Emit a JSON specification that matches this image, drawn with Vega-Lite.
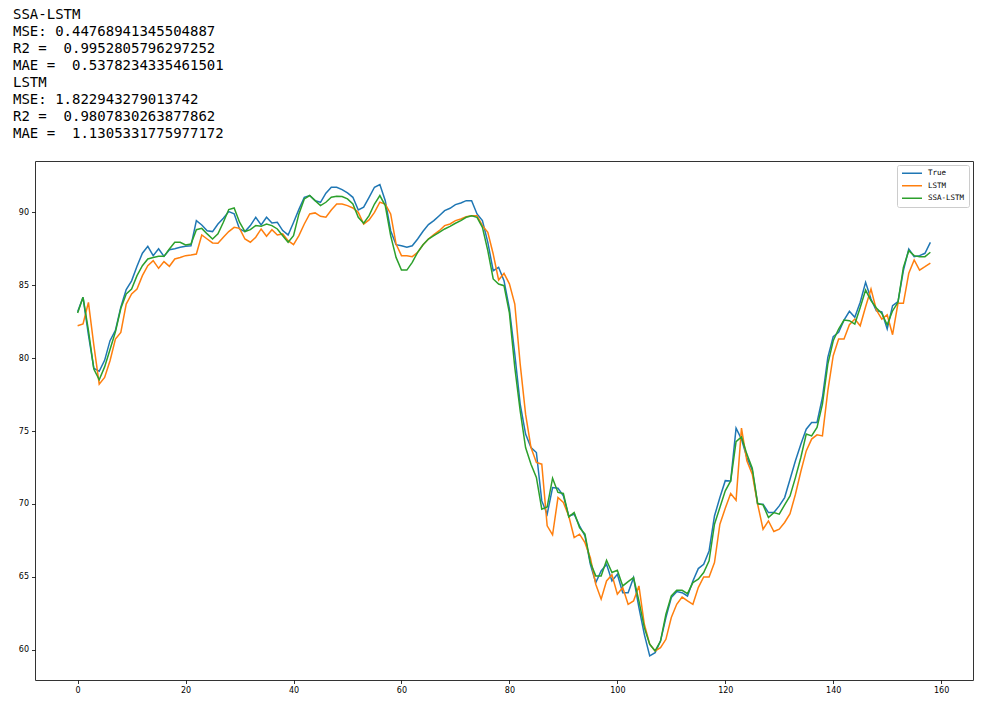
{
"$schema": "https://vega.github.io/schema/vega-lite/v6.json",
"width": 938, "height": 519,
"autosize": {"type": "none"},
"padding": {"left": 35, "top": 161, "right": 10, "bottom": 21},
"background": "white",
"title": {"text": ["SSA-LSTM", "MSE: 0.44768941345504887", "R2 = \u00a00.9952805796297252", "MAE = \u00a00.5378234335461501", "LSTM", "MSE: 1.822943279013742", "R2 = \u00a00.9807830263877862", "MAE = \u00a01.1305331775977172"], "anchor": "start", "frame": "group", "font": "DejaVu Sans Mono", "fontSize": 14, "fontWeight": "normal", "color": "#000", "lineHeight": 17, "offset": 20, "dx": -22},
"data": {"values": [
{"x":0,"True":83.19,"LSTM":82.22,"SSA-LSTM":83.1},
{"x":1,"True":84.17,"LSTM":82.34,"SSA-LSTM":84.17},
{"x":2,"True":81.6,"LSTM":83.83,"SSA-LSTM":81.9},
{"x":3,"True":79.3,"LSTM":80.9,"SSA-LSTM":79.25},
{"x":4,"True":79.1,"LSTM":78.22,"SSA-LSTM":78.52},
{"x":5,"True":79.85,"LSTM":78.68,"SSA-LSTM":79.4},
{"x":6,"True":81.2,"LSTM":79.82,"SSA-LSTM":80.6},
{"x":7,"True":81.9,"LSTM":81.31,"SSA-LSTM":81.8},
{"x":8,"True":83.5,"LSTM":81.77,"SSA-LSTM":83.4},
{"x":9,"True":84.7,"LSTM":83.71,"SSA-LSTM":84.4},
{"x":10,"True":85.3,"LSTM":84.4,"SSA-LSTM":84.74},
{"x":11,"True":86.3,"LSTM":84.74,"SSA-LSTM":85.66},
{"x":12,"True":87.2,"LSTM":85.66,"SSA-LSTM":86.34},
{"x":13,"True":87.67,"LSTM":86.34,"SSA-LSTM":86.8},
{"x":14,"True":87.03,"LSTM":86.69,"SSA-LSTM":86.9},
{"x":15,"True":87.5,"LSTM":86.16,"SSA-LSTM":86.98},
{"x":16,"True":86.98,"LSTM":86.62,"SSA-LSTM":86.98},
{"x":17,"True":87.44,"LSTM":86.3,"SSA-LSTM":87.49},
{"x":18,"True":87.5,"LSTM":86.8,"SSA-LSTM":87.95},
{"x":19,"True":87.6,"LSTM":86.9,"SSA-LSTM":87.95},
{"x":20,"True":87.67,"LSTM":87.03,"SSA-LSTM":87.76},
{"x":21,"True":87.7,"LSTM":87.07,"SSA-LSTM":87.83},
{"x":22,"True":89.43,"LSTM":87.14,"SSA-LSTM":88.81},
{"x":23,"True":89.13,"LSTM":88.45,"SSA-LSTM":88.9},
{"x":24,"True":88.74,"LSTM":88.17,"SSA-LSTM":88.52},
{"x":25,"True":88.68,"LSTM":87.9,"SSA-LSTM":88.17},
{"x":26,"True":89.2,"LSTM":87.88,"SSA-LSTM":88.52},
{"x":27,"True":89.59,"LSTM":88.29,"SSA-LSTM":89.32},
{"x":28,"True":90.05,"LSTM":88.68,"SSA-LSTM":90.19},
{"x":29,"True":89.9,"LSTM":88.97,"SSA-LSTM":90.3},
{"x":30,"True":88.86,"LSTM":88.9,"SSA-LSTM":89.32},
{"x":31,"True":88.68,"LSTM":88.17,"SSA-LSTM":88.68},
{"x":32,"True":89.09,"LSTM":87.95,"SSA-LSTM":88.81},
{"x":33,"True":89.66,"LSTM":88.29,"SSA-LSTM":89.09},
{"x":34,"True":89.13,"LSTM":88.86,"SSA-LSTM":89.04},
{"x":35,"True":89.66,"LSTM":88.36,"SSA-LSTM":89.2},
{"x":36,"True":89.27,"LSTM":88.81,"SSA-LSTM":89.09},
{"x":37,"True":89.32,"LSTM":88.45,"SSA-LSTM":88.86},
{"x":38,"True":88.75,"LSTM":88.52,"SSA-LSTM":88.4},
{"x":39,"True":88.45,"LSTM":88.06,"SSA-LSTM":87.95},
{"x":40,"True":89.3,"LSTM":87.78,"SSA-LSTM":88.4},
{"x":41,"True":90.2,"LSTM":88.4,"SSA-LSTM":89.89},
{"x":42,"True":91.03,"LSTM":89.2,"SSA-LSTM":90.92},
{"x":43,"True":91.15,"LSTM":89.89,"SSA-LSTM":91.15},
{"x":44,"True":90.8,"LSTM":89.96,"SSA-LSTM":90.8},
{"x":45,"True":90.69,"LSTM":89.73,"SSA-LSTM":90.46},
{"x":46,"True":91.31,"LSTM":89.66,"SSA-LSTM":90.69},
{"x":47,"True":91.72,"LSTM":90.16,"SSA-LSTM":91.03},
{"x":48,"True":91.72,"LSTM":90.57,"SSA-LSTM":91.1},
{"x":49,"True":91.56,"LSTM":90.57,"SSA-LSTM":91.08},
{"x":50,"True":91.33,"LSTM":90.46,"SSA-LSTM":90.92},
{"x":51,"True":91.03,"LSTM":90.3,"SSA-LSTM":90.57},
{"x":52,"True":90.16,"LSTM":90.0,"SSA-LSTM":89.66},
{"x":53,"True":90.35,"LSTM":89.2,"SSA-LSTM":89.25},
{"x":54,"True":91.03,"LSTM":89.48,"SSA-LSTM":89.77},
{"x":55,"True":91.72,"LSTM":90.0,"SSA-LSTM":90.57},
{"x":56,"True":91.9,"LSTM":90.69,"SSA-LSTM":91.15},
{"x":57,"True":90.8,"LSTM":90.57,"SSA-LSTM":90.46},
{"x":58,"True":88.74,"LSTM":89.89,"SSA-LSTM":88.4},
{"x":59,"True":87.78,"LSTM":87.83,"SSA-LSTM":86.91},
{"x":60,"True":87.71,"LSTM":87.03,"SSA-LSTM":86.04},
{"x":61,"True":87.6,"LSTM":87.03,"SSA-LSTM":86.04},
{"x":62,"True":87.71,"LSTM":86.96,"SSA-LSTM":86.57},
{"x":63,"True":88.17,"LSTM":87.26,"SSA-LSTM":87.26},
{"x":64,"True":88.7,"LSTM":87.78,"SSA-LSTM":87.78},
{"x":65,"True":89.16,"LSTM":88.17,"SSA-LSTM":88.17},
{"x":66,"True":89.43,"LSTM":88.47,"SSA-LSTM":88.4},
{"x":67,"True":89.77,"LSTM":88.74,"SSA-LSTM":88.63},
{"x":68,"True":90.12,"LSTM":89.09,"SSA-LSTM":88.86},
{"x":69,"True":90.28,"LSTM":89.2,"SSA-LSTM":89.04},
{"x":70,"True":90.53,"LSTM":89.43,"SSA-LSTM":89.25},
{"x":71,"True":90.64,"LSTM":89.54,"SSA-LSTM":89.43},
{"x":72,"True":90.8,"LSTM":89.7,"SSA-LSTM":89.66},
{"x":73,"True":90.8,"LSTM":89.77,"SSA-LSTM":89.77},
{"x":74,"True":89.89,"LSTM":89.77,"SSA-LSTM":89.66},
{"x":75,"True":89.43,"LSTM":89.09,"SSA-LSTM":88.97},
{"x":76,"True":87.94,"LSTM":88.63,"SSA-LSTM":87.37},
{"x":77,"True":86.0,"LSTM":87.14,"SSA-LSTM":85.43},
{"x":78,"True":86.23,"LSTM":85.36,"SSA-LSTM":85.08},
{"x":79,"True":85.31,"LSTM":85.81,"SSA-LSTM":84.97},
{"x":80,"True":83.4,"LSTM":85.1,"SSA-LSTM":83.1},
{"x":81,"True":80.28,"LSTM":83.71,"SSA-LSTM":79.37},
{"x":82,"True":76.85,"LSTM":79.59,"SSA-LSTM":76.39},
{"x":83,"True":74.79,"LSTM":76.16,"SSA-LSTM":73.87},
{"x":84,"True":73.87,"LSTM":73.87,"SSA-LSTM":72.73},
{"x":85,"True":73.53,"LSTM":72.85,"SSA-LSTM":71.82},
{"x":86,"True":70.21,"LSTM":72.73,"SSA-LSTM":69.64},
{"x":87,"True":69.3,"LSTM":68.5,"SSA-LSTM":69.8},
{"x":88,"True":71.13,"LSTM":67.88,"SSA-LSTM":71.77},
{"x":89,"True":71.08,"LSTM":70.44,"SSA-LSTM":70.79},
{"x":90,"True":70.56,"LSTM":70.1,"SSA-LSTM":70.72},
{"x":91,"True":69.18,"LSTM":69.18,"SSA-LSTM":69.12},
{"x":92,"True":69.3,"LSTM":67.7,"SSA-LSTM":69.41},
{"x":93,"True":68.5,"LSTM":67.93,"SSA-LSTM":68.38},
{"x":94,"True":67.81,"LSTM":67.35,"SSA-LSTM":67.93},
{"x":95,"True":65.87,"LSTM":66.32,"SSA-LSTM":65.98},
{"x":96,"True":64.61,"LSTM":64.5,"SSA-LSTM":65.07},
{"x":97,"True":65.41,"LSTM":63.47,"SSA-LSTM":65.07},
{"x":98,"True":65.87,"LSTM":64.72,"SSA-LSTM":66.14},
{"x":99,"True":64.72,"LSTM":65.14,"SSA-LSTM":65.3},
{"x":100,"True":65.18,"LSTM":63.81,"SSA-LSTM":65.46},
{"x":101,"True":63.92,"LSTM":64.27,"SSA-LSTM":64.38},
{"x":102,"True":63.92,"LSTM":63.12,"SSA-LSTM":64.68},
{"x":103,"True":64.95,"LSTM":63.35,"SSA-LSTM":64.95},
{"x":104,"True":62.89,"LSTM":64.38,"SSA-LSTM":63.35},
{"x":105,"True":61.06,"LSTM":61.75,"SSA-LSTM":61.52},
{"x":106,"True":59.58,"LSTM":60.38,"SSA-LSTM":60.38},
{"x":107,"True":59.8,"LSTM":59.92,"SSA-LSTM":59.92},
{"x":108,"True":60.6,"LSTM":60.15,"SSA-LSTM":60.6},
{"x":109,"True":62.21,"LSTM":60.72,"SSA-LSTM":62.44},
{"x":110,"True":63.58,"LSTM":62.21,"SSA-LSTM":63.69},
{"x":111,"True":63.99,"LSTM":63.12,"SSA-LSTM":64.08},
{"x":112,"True":63.92,"LSTM":63.62,"SSA-LSTM":64.08},
{"x":113,"True":63.69,"LSTM":63.35,"SSA-LSTM":63.85},
{"x":114,"True":64.72,"LSTM":63.12,"SSA-LSTM":64.61},
{"x":115,"True":65.57,"LSTM":64.27,"SSA-LSTM":64.84},
{"x":116,"True":65.87,"LSTM":65.0,"SSA-LSTM":65.3},
{"x":117,"True":66.78,"LSTM":65.0,"SSA-LSTM":66.1},
{"x":118,"True":69.18,"LSTM":65.98,"SSA-LSTM":68.61},
{"x":119,"True":70.44,"LSTM":68.61,"SSA-LSTM":69.76},
{"x":120,"True":71.6,"LSTM":69.7,"SSA-LSTM":70.9},
{"x":121,"True":71.58,"LSTM":70.72,"SSA-LSTM":71.58},
{"x":122,"True":75.2,"LSTM":70.26,"SSA-LSTM":74.28},
{"x":123,"True":74.45,"LSTM":75.2,"SSA-LSTM":74.6},
{"x":124,"True":73.19,"LSTM":72.96,"SSA-LSTM":73.42},
{"x":125,"True":72.32,"LSTM":72.04,"SSA-LSTM":72.45},
{"x":126,"True":69.98,"LSTM":69.98,"SSA-LSTM":70.03},
{"x":127,"True":69.98,"LSTM":68.27,"SSA-LSTM":69.94},
{"x":128,"True":69.41,"LSTM":68.84,"SSA-LSTM":69.07},
{"x":129,"True":69.41,"LSTM":68.11,"SSA-LSTM":69.41},
{"x":130,"True":69.87,"LSTM":68.27,"SSA-LSTM":69.3},
{"x":131,"True":70.44,"LSTM":68.73,"SSA-LSTM":69.94},
{"x":132,"True":71.7,"LSTM":69.34,"SSA-LSTM":70.55},
{"x":133,"True":72.96,"LSTM":70.67,"SSA-LSTM":71.81},
{"x":134,"True":74.1,"LSTM":72.23,"SSA-LSTM":73.19},
{"x":135,"True":75.13,"LSTM":73.64,"SSA-LSTM":74.8},
{"x":136,"True":75.59,"LSTM":74.45,"SSA-LSTM":74.67},
{"x":137,"True":75.59,"LSTM":74.74,"SSA-LSTM":75.25},
{"x":138,"True":77.3,"LSTM":74.67,"SSA-LSTM":76.85},
{"x":139,"True":80.05,"LSTM":77.76,"SSA-LSTM":79.59},
{"x":140,"True":81.47,"LSTM":80.17,"SSA-LSTM":81.19},
{"x":141,"True":81.77,"LSTM":81.31,"SSA-LSTM":82.0},
{"x":142,"True":82.61,"LSTM":81.31,"SSA-LSTM":82.61},
{"x":143,"True":83.21,"LSTM":82.29,"SSA-LSTM":82.57},
{"x":144,"True":82.8,"LSTM":82.68,"SSA-LSTM":82.34},
{"x":145,"True":83.83,"LSTM":82.22,"SSA-LSTM":83.48},
{"x":146,"True":85.2,"LSTM":83.53,"SSA-LSTM":84.67},
{"x":147,"True":84.05,"LSTM":84.74,"SSA-LSTM":83.94},
{"x":148,"True":83.25,"LSTM":83.3,"SSA-LSTM":83.44},
{"x":149,"True":83.18,"LSTM":82.68,"SSA-LSTM":83.07},
{"x":150,"True":82.0,"LSTM":82.98,"SSA-LSTM":82.29},
{"x":151,"True":83.6,"LSTM":81.61,"SSA-LSTM":83.25},
{"x":152,"True":83.87,"LSTM":83.76,"SSA-LSTM":83.83},
{"x":153,"True":86.0,"LSTM":83.76,"SSA-LSTM":86.23},
{"x":154,"True":87.49,"LSTM":85.82,"SSA-LSTM":87.37},
{"x":155,"True":86.96,"LSTM":86.73,"SSA-LSTM":87.03},
{"x":156,"True":87.03,"LSTM":86.04,"SSA-LSTM":86.96},
{"x":157,"True":87.19,"LSTM":86.27,"SSA-LSTM":86.96},
{"x":158,"True":87.94,"LSTM":86.52,"SSA-LSTM":87.26}
]},
"transform": [{"fold": ["True", "LSTM", "SSA-LSTM"], "as": ["series", "value"]}],
"mark": {"type": "line", "strokeWidth": 1.5, "clip": true},
"encoding": {
  "x": {"field": "x", "type": "quantitative", "scale": {"domain": [-7.9, 165.9], "nice": false, "zero": false},
        "axis": {"values": [0, 20, 40, 60, 80, 100, 120, 140, 160], "title": null, "grid": false, "domain": false, "tickSize": 3.5, "tickColor": "#000", "tickWidth": 0.8, "labelFont": "DejaVu Sans", "labelFontSize": 8, "labelColor": "#000", "labelPadding": 3}},
  "y": {"field": "value", "type": "quantitative", "scale": {"domain": [57.93, 93.52], "nice": false, "zero": false},
        "axis": {"values": [60, 65, 70, 75, 80, 85, 90], "title": null, "grid": false, "domain": false, "tickSize": 3.5, "tickColor": "#000", "tickWidth": 0.8, "labelFont": "DejaVu Sans", "labelFontSize": 8, "labelColor": "#000", "labelPadding": 3}},
  "color": {"field": "series", "type": "nominal", "sort": null,
            "scale": {"domain": ["True", "LSTM", "SSA-LSTM"], "range": ["#1f77b4", "#ff7f0e", "#2ca02c"]},
            "legend": {"orient": "top-right", "offset": 4, "title": null, "symbolType": "stroke", "symbolSize": 400, "symbolStrokeWidth": 1.5, "labelFont": "DejaVu Sans Mono", "labelFontSize": 7.5, "labelColor": "#000", "labelOffset": 5, "clipHeight": 8.5, "rowPadding": 3.5, "padding": 4, "strokeColor": "#cccccc", "fillColor": "#ffffff", "cornerRadius": 2}}
},
"config": {"view": {"stroke": "#333", "strokeWidth": 1}}
}
